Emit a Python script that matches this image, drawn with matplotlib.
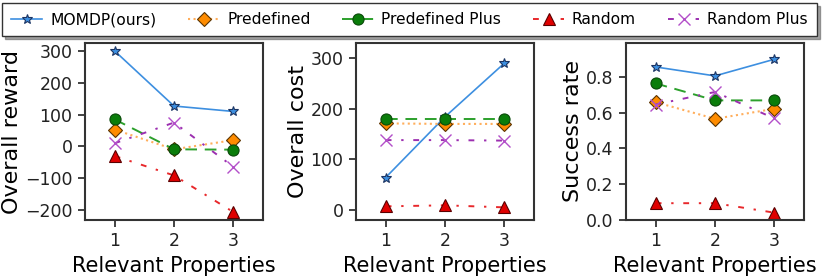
import matplotlib
matplotlib.use("Agg")
import matplotlib.pyplot as plt

x = [1, 2, 3]
methods = ["MOMDP(ours)", "Predefined", "Predefined Plus", "Random", "Random Plus"]

reward_momdp = [300, 127, 110]
reward_pre = [53, -9, 20]
reward_preplus = [85, -9, -10]
reward_rand = [-30, -91, -206]
reward_randplus = [10, 75, -64]

cost_momdp = [64, 184, 290]
cost_pre = [171, 170, 170]
cost_preplus = [179, 179, 179]
cost_rand = [7, 9, 5]
cost_randplus = [138, 138, 137]

succ_momdp = [0.856, 0.806, 0.899]
succ_pre = [0.659, 0.566, 0.622]
succ_preplus = [0.764, 0.669, 0.669]
succ_rand = [0.094, 0.094, 0.041]
succ_randplus = [0.646, 0.716, 0.568]

ylabels = ["Overall reward", "Overall cost", "Success rate"]
xlabel = "Relevant Properties"

styles = [
    dict(color="#3d8fe0", ls="-", marker="*", ms=7.5, mfc="#3d8fe0", mec="#1c3563", mew=0.8, lw=1.2),
    dict(color="#ffae5c", ls=":", marker="D", ms=7.5, mfc="#ff8c00", mec="#5a3300", mew=0.8, lw=1.5),
    dict(color="#2ca02c", ls=(0, (6, 4)), marker="o", ms=8, mfc="#0a7d0a", mec="#0a4a0a", mew=0.8, lw=1.4),
    dict(color="#e8282b", ls=(0, (3, 5, 1.2, 5)), marker="^", ms=8, mfc="#e00000", mec="#5a0000", mew=0.8, lw=1.4),
    dict(color="#9c2fb0", ls=(0, (3, 5, 1.2, 5)), marker="x", ms=9, mfc="#b34fc9", mec="#b34fc9", mew=1.0, lw=1.4),
]

data = [
    [reward_momdp, reward_pre, reward_preplus, reward_rand, reward_randplus],
    [cost_momdp, cost_pre, cost_preplus, cost_rand, cost_randplus],
    [succ_momdp, succ_pre, succ_preplus, succ_rand, succ_randplus],
]
ylims = [(-231, 325), (-20, 330), (0.0, 0.99)]
yticks = [[-200, -100, 0, 100, 200, 300], [0, 100, 200, 300], [0.0, 0.2, 0.4, 0.6, 0.8]]
yticklabels = [["\u2212200", "\u2212100", "0", "100", "200", "300"],
               ["0", "100", "200", "300"],
               ["0.0", "0.2", "0.4", "0.6", "0.8"]]

W, H = 823, 277
fig = plt.figure(figsize=(W / 100, H / 100), dpi=100)
lefts = [85, 356, 626]
aw = 178
top, bottom = 43, 220

handles = []
for i in range(3):
    ax = fig.add_axes([lefts[i] / W, 1 - bottom / H, aw / W, (bottom - top) / H])
    for j, series in enumerate(data[i]):
        h, = ax.plot(x, series, label=methods[j], **styles[j])
        if i == 0:
            handles.append(h)
    ax.set_xlim(0.5, 3.5)
    ax.set_ylim(*ylims[i])
    ax.set_xticks(x)
    ax.set_xticklabels(["1", "2", "3"])
    ax.set_yticks(yticks[i])
    ax.set_yticklabels(yticklabels[i])
    ax.tick_params(labelsize=12.5, direction="out", length=5, width=1.2, colors="#222222", pad=4)
    for s in ax.spines.values():
        s.set_linewidth(1.5)
        s.set_color("#333333")
    ax.set_xlabel(xlabel, fontsize=15, labelpad=4)
    ax.set_ylabel(ylabels[i], fontsize=16, labelpad=2)

leg = fig.legend(handles=handles, loc="upper center", bbox_to_anchor=(0.4975, 0.99), ncol=5,
                 fontsize=11.2, frameon=True, fancybox=False, shadow=True,
                 handlelength=2.0, columnspacing=2.05, borderpad=0.6, handletextpad=0.5,
                 borderaxespad=0.0)
leg.get_frame().set_edgecolor("#333333")
leg.get_frame().set_linewidth(1.0)

fig.savefig("out.png", dpi=100)
